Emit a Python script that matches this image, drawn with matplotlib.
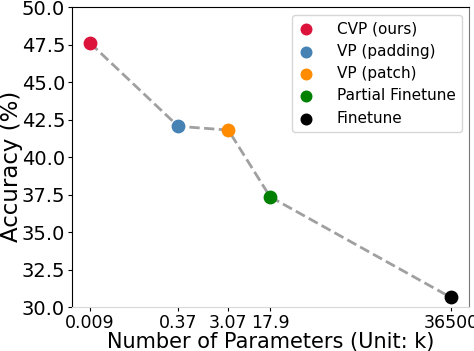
import matplotlib
matplotlib.use('Agg')
import matplotlib.pyplot as plt
from matplotlib.ticker import FixedLocator, FixedFormatter, NullLocator

# data
methods = ['CVP (ours)', 'VP (padding)', 'VP (patch)', 'Partial Finetune', 'Finetune']
params = [0.009, 0.37, 3.07, 17.9, 36500]
param_labels = ['0.009', '0.37', '3.07', '17.9', '36500']
accuracy = [47.6, 42.05, 41.8, 37.35, 30.65]
colors = ['crimson', 'steelblue', 'darkorange', 'green', 'black']

fig = plt.figure(figsize=(4.74, 3.51), dpi=100)
ax = fig.add_axes([0.152, 0.125, 0.837, 0.855])

ax.plot(params, accuracy, '--', color='#a0a0a0', linewidth=2, zorder=1)
for x, y, c, m in zip(params, accuracy, colors, methods):
    ax.scatter(x, y, color=c, s=80, label=m, zorder=2)

ax.set_xscale('log')
ax.xaxis.set_major_locator(FixedLocator(params))
ax.xaxis.set_major_formatter(FixedFormatter(param_labels))
ax.xaxis.set_minor_locator(NullLocator())
ax.set_ylim(30, 50)
ax.set_yticks([30 + 2.5 * i for i in range(9)])
ax.set_yticklabels(['%.1f' % (30 + 2.5 * i) for i in range(9)])
ax.tick_params(axis='y', labelsize=14, length=3, pad=2)
ax.tick_params(axis='x', labelsize=12.5, length=3, pad=2)
ax.spines['bottom'].set_color('#d8d8d8')
ax.spines['right'].set_color('#777777')

ax.set_xlabel('Number of Parameters (Unit: k)', fontsize=15, labelpad=0)
ax.set_ylabel('Accuracy (%)', fontsize=16.5, labelpad=-1)
ax.yaxis.label.set_y(0.47)
ax.legend(loc='upper right', fontsize=11, handlelength=1.0, handletextpad=1.5,
          borderpad=0.4, labelspacing=0.48, borderaxespad=0, markerscale=0.85,
          bbox_to_anchor=(0.982, 0.973))

fig.savefig('out.png', dpi=100)
